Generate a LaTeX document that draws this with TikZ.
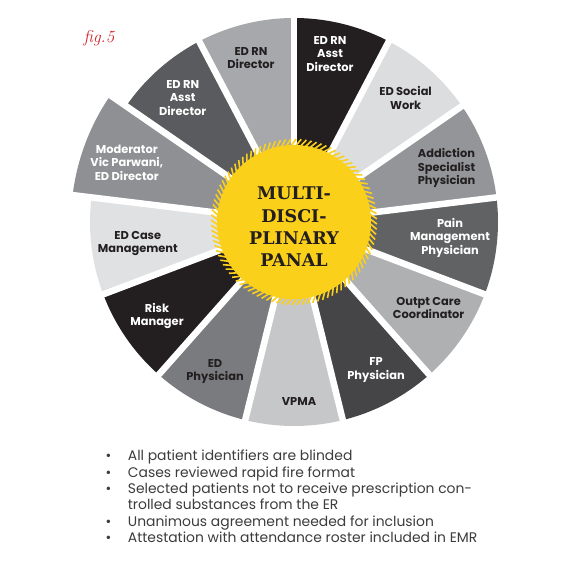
\documentclass[tikz,border=0pt]{standalone}
\usepackage{fontspec}
\newfontfamily\labfont{Poppins}
\newfontfamily\centfont{DejaVu Serif}
\usetikzlibrary{calc}
\definecolor{sA}{HTML}{231F20}
\definecolor{sB}{HTML}{DCDDDF}
\definecolor{sC}{HTML}{939598}
\definecolor{sD}{HTML}{616264}
\definecolor{sE}{HTML}{AEB0B2}
\definecolor{sF}{HTML}{454547}
\definecolor{sG}{HTML}{C6C7C9}
\definecolor{sH}{HTML}{7A7B7E}
\definecolor{sI}{HTML}{231F20}
\definecolor{sJ}{HTML}{E0E1E2}
\definecolor{sK}{HTML}{8E9093}
\definecolor{sL}{HTML}{5A5B5E}
\definecolor{sM}{HTML}{A6A8AB}
\definecolor{txtdark}{HTML}{231F20}
\definecolor{sunyellow}{HTML}{FBD01A}
\definecolor{figred}{HTML}{D2232A}
\definecolor{notegray}{HTML}{3C3C3C}
\tikzset{
  lab/.style={align=center, font=\labfont\bfseries\fontsize{11.4}{13.5}\selectfont},
  labw/.style={lab, text=white},
  labd/.style={lab, text=txtdark},
  gapline/.style={white, line width=6.5pt},
  tooth/.style={sunyellow, line width=1.6pt},
}
\begin{document}
\begin{tikzpicture}[x=1pt,y=1pt]
\fill[white] (0,0) rectangle (570,570);
\useasboundingbox (0,0) rectangle (570,570);
\begin{scope}[shift={(294,348)}]
  \foreach \k/\col/\r in {0/sA/204,1/sB/204,2/sC/204,3/sD/204,4/sE/204,5/sF/204,6/sG/204,7/sH/204,8/sI/204,9/sJ/204,10/sK/223,11/sL/204,12/sM/204}{
    \pgfmathsetmacro\aS{90-27.6923*(\k+1)}
    \pgfmathsetmacro\aE{90-27.6923*\k}
    \fill[\col] (0,0) -- (\aS:\r) arc[start angle=\aS, end angle=\aE, radius=\r] -- cycle;
  }
  \foreach \k in {0,...,12}{
    \draw[gapline] (0,0) -- ({90-27.6923*\k}:240);
  }
  \foreach \i in {0,...,99}{
    \draw[tooth] ({\i*3.6}:74) -- ({\i*3.6-5}:83);
  }
  \fill[sunyellow] (0,0) circle[radius=77];
\end{scope}
\node[align=center, font=\centfont\bfseries\fontsize{17.5}{22.4}\selectfont, text=txtdark] (center) at (294,343) {MULTI-\\DISCI-\\PLINARY\\PANAL};
\node[labd] (director) at (251,512) {ED RN\\Director};
\node[labw] (asstR) at (330,516) {ED RN\\Asst\\Director};
\node[labd] (social) at (405.6,472) {ED Social\\Work};
\node[labd] (addict) at (446.5,402) {Addiction\\Specialist\\Physician};
\node[labw] (pain) at (450,332.5) {Pain\\Management\\Physician};
\node[labd] (outpt) at (428.6,262) {Outpt Care\\Coordinator};
\node[labw] (fp) at (376,200) {FP\\Physician};
\node[labd] (vpma) at (299,168) {VPMA};
\node[labd] (edphys) at (215,198.4) {ED\\Physician};
\node[labw] (risk) at (157,254) {Risk\\Manager};
\node[labd] (casemgmt) at (137.8,326.3) {ED Case\\Management};
\node[labw] (moder) at (126.8,407.4) {Moderator\\Vic Parwani,\\ED Director};
\node[labw] (asstL) at (182.7,472) {ED RN\\Asst\\Director};
\node[text=figred, font=\itshape\fontsize{17}{17}\selectfont] (fig) at (99,532) {fig.5};
\node[anchor=north west, inner sep=0pt, text=notegray, font=\labfont\fontsize{13.9}{16.4}\selectfont] (notes) at (105.5,121)
{\begin{tabular}{@{}p{22.2pt}@{}l@{}}
\textbullet & All patient identifiers are blinded\\
\textbullet & Cases reviewed rapid fire format\\
\textbullet & Selected patients not to receive prescription con-\\
 & trolled substances from the ER\\
\textbullet & Unanimous agreement needed for inclusion\\
\textbullet & Attestation with attendance roster included in EMR
\end{tabular}};
\end{tikzpicture}
\end{document}
